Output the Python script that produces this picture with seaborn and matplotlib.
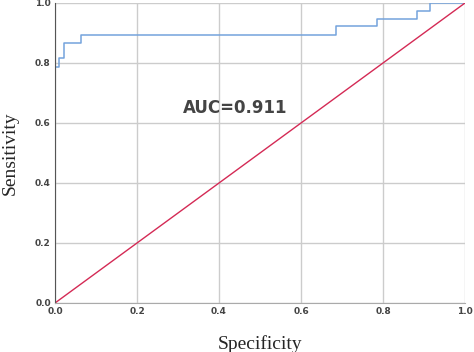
import pandas as pd
import seaborn as sns
import matplotlib.pyplot as plt

# ROC curve points (step shape)
fpr = [0.0, 0.0, 0.010, 0.010, 0.022, 0.022, 0.064, 0.064, 0.685, 0.685, 0.785, 0.785, 0.883, 0.883, 0.915, 0.915, 1.0]
tpr = [0.0, 0.787, 0.787, 0.817, 0.817, 0.867, 0.867, 0.895, 0.895, 0.922, 0.922, 0.947, 0.947, 0.972, 0.972, 1.0, 1.0]
ref_x = [0.0, 1.0]
ref_y = [0.0, 1.0]
ticks = [0.0, 0.2, 0.4, 0.6, 0.8, 1.0]
auc_label = "AUC=0.911"

roc = pd.DataFrame({"Specificity": fpr, "Sensitivity": tpr})
diag = pd.DataFrame({"Specificity": ref_x, "Sensitivity": ref_y})

sns.set_style("white")
plt.rcParams['font.family'] = ['DejaVu Sans']

fig = plt.figure(figsize=(4.74, 3.52), dpi=100)
ax = fig.add_axes([55 / 474, 1 - 303 / 352, 410 / 474, 300 / 352])

ax.grid(True, color='#cccccc', linewidth=1.0)
ax.set_axisbelow(True)

sns.lineplot(data=roc, x="Specificity", y="Sensitivity", sort=False, estimator=None,
             color='#74a3dc', linewidth=1.1, ax=ax)
sns.lineplot(data=diag, x="Specificity", y="Sensitivity", sort=False, estimator=None,
             color='#d42a55', linewidth=1.0, ax=ax)

ax.set_xlim(0, 1)
ax.set_ylim(0, 1)
ax.set_xticks(ticks)
ax.set_yticks(ticks)
ax.set_xticklabels([f"{t:.1f}" for t in ticks], fontsize=6.5, fontweight='bold', color='#444444')
ax.set_yticklabels([f"{t:.1f}" for t in ticks], fontsize=6.5, fontweight='bold', color='#444444')
ax.tick_params(axis='both', length=0, pad=3)

for s in ['top', 'right']:
    ax.spines[s].set_visible(False)
ax.spines['left'].set_color('#555555')
ax.spines['bottom'].set_color('#aaaaaa')

ax.set_xlabel("Specificity", family='Liberation Serif', fontsize=14, labelpad=14)
ax.set_ylabel("Sensitivity", family='Liberation Serif', fontsize=14, labelpad=12)

ax.text(0.44, 0.65, auc_label, fontsize=12, fontweight='bold', color='#444444',
        ha='center', va='center')

plt.savefig("out.png", dpi=100, facecolor='w')
